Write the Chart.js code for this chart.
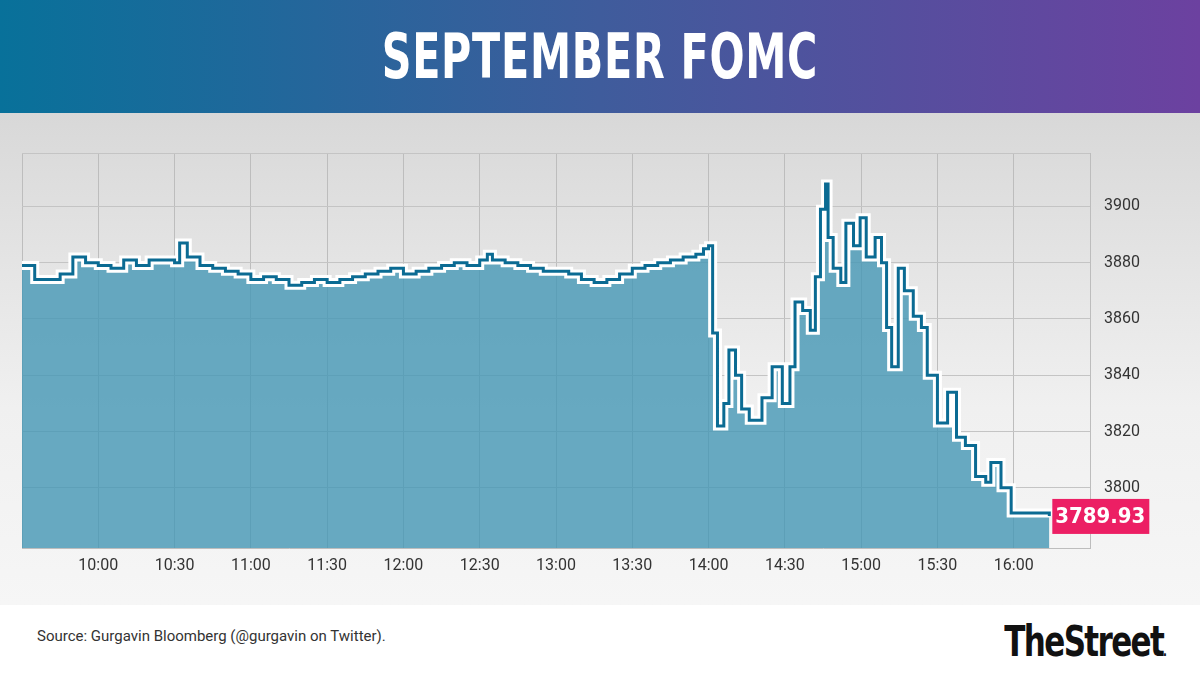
<!DOCTYPE html>
<html>
<head>
<meta charset="utf-8">
<script src="https://cdn.jsdelivr.net/npm/chart.js@4"></script>
<style>
  body { margin: 0; width: 1200px; height: 683px; overflow: hidden; font-family: Roboto, sans-serif; background: #fff; }
  #banner { height: 113px; background: linear-gradient(90deg, #08719a 0%, #3f5c9c 50%, #6c41a0 100%); color: #fff;
    display: flex; align-items: center; justify-content: center; }
  #banner span { font-family: "DejaVu Sans Condensed", "DejaVu Sans", sans-serif; font-weight: bold; font-size: 62px;
    display: inline-block; transform: scaleX(0.74); letter-spacing: 1px; }
  #plot { height: 492px; background: linear-gradient(180deg, #d8d8d8 0%, #f0f0f0 60%, #f6f6f6 100%); position: relative; }
  #footer { height: 78px; position: relative; }
  #source { position: absolute; left: 37px; top: 22px; font-size: 15px; color: #333; }
  #logo { position: absolute; right: 35px; top: 12px; font-family: "DejaVu Sans Condensed", sans-serif; font-weight: bold;
    font-size: 42px; letter-spacing: -2px; color: #111; transform: scaleX(0.82); transform-origin: right center; }
</style>
</head>
<body>
<div id="banner"><span>SEPTEMBER FOMC</span></div>
<div id="plot"><canvas id="chart" width="1200" height="492"></canvas></div>
<div id="footer">
  <div id="source">Source: Gurgavin Bloomberg (@gurgavin on Twitter).</div>
  <div id="logo">TheStreet<span style="font-size:14px">.</span></div>
</div>
<script>
// minutes after 9:30
const minutes = [0, 5, 10, 15, 20, 25, 30, 35, 40, 45, 50, 55, 60, 62, 65, 70, 75, 80, 85, 90, 95, 100, 105, 110, 115,
  120, 125, 130, 135, 140, 145, 150, 155, 160, 165, 170, 175, 180, 183, 185, 190, 195, 200, 205, 210, 215, 220, 225, 230,
  235, 240, 245, 250, 255, 260, 265, 268, 270, 271.6, 273.5, 276, 278, 280.6, 283, 286, 288.6, 291, 295, 299, 302, 304,
  307, 310, 312, 314, 316, 317, 319, 322, 324, 327, 329.6, 332, 335.5, 338, 340, 342, 344.6, 347, 350.5, 353.7, 356, 360,
  364, 367.5, 371, 375, 379, 381, 385, 389, 404];
const prices = [3879, 3874, 3874, 3876, 3882, 3880, 3879, 3878, 3881, 3879, 3881, 3881, 3880, 3887, 3882, 3879, 3878, 3877, 3876, 3874, 3875, 3874, 3872, 3873, 3874,
  3873, 3874, 3875, 3876, 3877, 3878, 3876, 3877, 3878, 3879, 3880, 3879, 3881, 3883, 3881, 3880, 3879, 3878, 3877, 3877, 3876, 3874, 3873, 3874,
  3876, 3878, 3879, 3880, 3881, 3882, 3883, 3885, 3886, 3855, 3822, 3830, 3849, 3840, 3828, 3824, 3824, 3832, 3843, 3830, 3843, 3866,
  3863, 3856, 3875, 3899, 3908, 3889, 3878, 3873, 3894, 3886, 3896, 3882, 3889, 3880, 3857, 3843, 3878, 3870, 3861, 3857, 3840, 3823,
  3834, 3818, 3815, 3804, 3802, 3809, 3800, 3791, 3790];
const yTicks = [3800, 3820, 3840, 3860, 3880, 3900];
const xTickLabels = ["10:00", "10:30", "11:00", "11:30", "12:00", "12:30", "13:00", "13:30", "14:00", "14:30", "15:00", "15:30", "16:00"];
const lastLabel = "3789.93";

const points = minutes.map((m, i) => ({ x: m, y: prices[i] }));
const yMin = 3778.6, yMax = 3919;

const priceTag = {
  id: "priceTag",
  afterDatasetsDraw(chart) {
    const { ctx, scales } = chart;
    const y = scales.y.getPixelForValue(prices[prices.length - 1]);
    const x = scales.x.getPixelForValue(minutes[minutes.length - 1]) + 3;
    ctx.save();
    ctx.fillStyle = "#ec1f64";
    ctx.fillRect(x, y - 17, 97, 35);
    ctx.fillStyle = "#fff";
    ctx.font = "bold 22px 'DejaVu Sans Condensed', 'DejaVu Sans', sans-serif";
    ctx.textAlign = "center";
    ctx.textBaseline = "middle";
    ctx.fillText(lastLabel, x + 48, y + 1);
    ctx.restore();
  }
};

new Chart(document.getElementById("chart"), {
  type: "line",
  data: {
    datasets: [
      { data: points, stepped: true, borderColor: "#0b6b93", borderWidth: 3, pointRadius: 0, fill: false, order: 0 },
      { data: points, stepped: true, borderColor: "#ffffff", borderWidth: 9, pointRadius: 0, fill: "start",
        backgroundColor: "rgba(72,152,182,0.82)", order: 1 }
    ]
  },
  options: {
    responsive: false,
    animation: false,
    layout: { padding: { left: 22, top: 40, right: 0, bottom: 0 } },
    plugins: { legend: { display: false }, tooltip: { enabled: false } },
    scales: {
      x: {
        type: "linear", min: 0, max: 420,
        afterBuildTicks: (s) => { s.ticks = []; for (let m = 0; m <= 420; m += 30) s.ticks.push({ value: m }); },
        afterFit: (s) => { s.height = 57; },
        ticks: { color: "#333", font: { size: 16, family: "Roboto" }, padding: 8, maxRotation: 0, autoSkip: false,
          callback: (v) => (v >= 30 && v <= 390 ? xTickLabels[v / 30 - 1] : "") },
        grid: { color: "#bdbdbd", tickLength: 0 },
        border: { color: "#bdbdbd" }
      },
      y: {
        position: "right", min: yMin, max: yMax,
        afterBuildTicks: (s) => { s.ticks = yTicks.map((v) => ({ value: v })).concat([{ value: yMax }]); },
        afterFit: (s) => { s.width = 110; },
        ticks: { color: "#333", font: { size: 16, family: "Roboto" }, padding: 14,
          callback: (v) => (yTicks.includes(v) ? String(v) : "") },
        grid: { color: "#c4c4c4", tickLength: 0 },
        border: { color: "#bdbdbd" }
      }
    }
  },
  plugins: [priceTag]
});
</script>
</body>
</html>
